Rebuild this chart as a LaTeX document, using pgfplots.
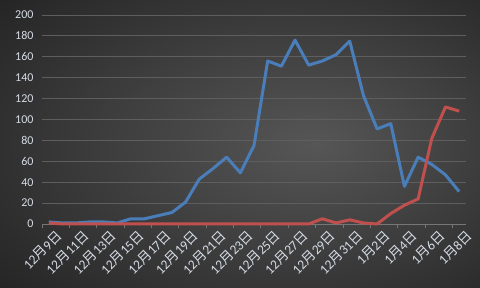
\documentclass[border=0pt]{standalone}
\usepackage{pgfplots}
\pgfplotsset{compat=1.18}
\usepackage{fontspec}
\setmainfont{Carlito}
\newfontfamily\cjk{Noto Sans CJK SC}
\definecolor{bgin}{HTML}{565656}
\definecolor{bgmid}{HTML}{3F3F3F}
\definecolor{bgout}{HTML}{222222}
\definecolor{gridc}{HTML}{5E5E5E}
\definecolor{axl}{HTML}{767676}
\definecolor{lbl}{HTML}{D6DCE6}
\definecolor{ser1}{HTML}{4A7EBB}
\definecolor{ser2}{HTML}{C0504D}
\pgfdeclareradialshading{bgshade}{\pgfpoint{8bp}{0bp}}{color(0bp)=(bgin); color(18bp)=(bgmid); color(40bp)=(bgout); color(60bp)=(bgout)}
\newcommand{\dl}[2]{#1{\cjk 月}#2{\cjk 日}}
\begin{document}
\begin{tikzpicture}
\shade[shading=bgshade] (0,0) rectangle (480pt,288pt);
\useasboundingbox (0,0) rectangle (480pt,288pt);
\begin{axis}[
  at={(42pt,64pt)}, anchor=south west,
  scale only axis, width=424pt, height=209pt,
  xmin=-0.5, xmax=30.5, ymin=0, ymax=200,
  ytick={0,20,...,200},
  xtick={0,2,...,30},
  xticklabels={\dl{12}{9},\dl{12}{11},\dl{12}{13},\dl{12}{15},\dl{12}{17},\dl{12}{19},\dl{12}{21},\dl{12}{23},\dl{12}{25},\dl{12}{27},\dl{12}{29},\dl{12}{31},\dl{1}{2},\dl{1}{4},\dl{1}{6},\dl{1}{8}},
  minor xtick={-0.5,1.5,...,29.5},
  axis x line*=bottom, axis y line*=left,
  y axis line style={draw=none},
  x axis line style={draw=axl, line width=0.8pt, -},
  xtick align=outside,
  major tick length=0pt, minor tick length=4pt,
  xtick style={draw=axl, line width=0.8pt},
  minor x tick style={draw=axl, line width=0.8pt},
  ytick style={draw=none},
  ymajorgrids, grid style={draw=gridc, line width=0.8pt},
  tick label style={font=\fontsize{12}{14}\selectfont, text=lbl},
  /pgf/number format/assume math mode=true,
  yticklabel style={xshift=-5pt},
  xticklabel style={font=\fontsize{13.5}{16}\selectfont, rotate=45, anchor=east, inner sep=0pt, yshift=-14pt, xshift=1pt},
  clip=false,
]
\addplot[ser1, line width=3pt, line join=round, mark=none] coordinates {
(0,2)(1,1)(2,1)(3,2)(4,2)(5,1)(6,5)(7,5)(8,8)(9,11)(10,21)(11,43)(12,53)(13,64)(14,49)(15,75)(16,156)(17,151)(18,176)(19,152)(20,156)(21,162)(22,175)(23,123)(24,91)(25,96)(26,36)(27,64)(28,57)(29,47)(30,31)};
\addplot[ser2, line width=3pt, line join=round, mark=none] coordinates {
(0,1)(1,0)(2,0)(3,0)(4,0)(5,0)(6,0)(7,0)(8,0)(9,0)(10,0)(11,0)(12,0)(13,0)(14,0)(15,0)(16,0)(17,0)(18,0)(19,0)(20,5)(21,1)(22,4)(23,1)(24,0)(25,10)(26,18)(27,24)(28,82)(29,112)(30,108)};
\end{axis}
\end{tikzpicture}
\end{document}
